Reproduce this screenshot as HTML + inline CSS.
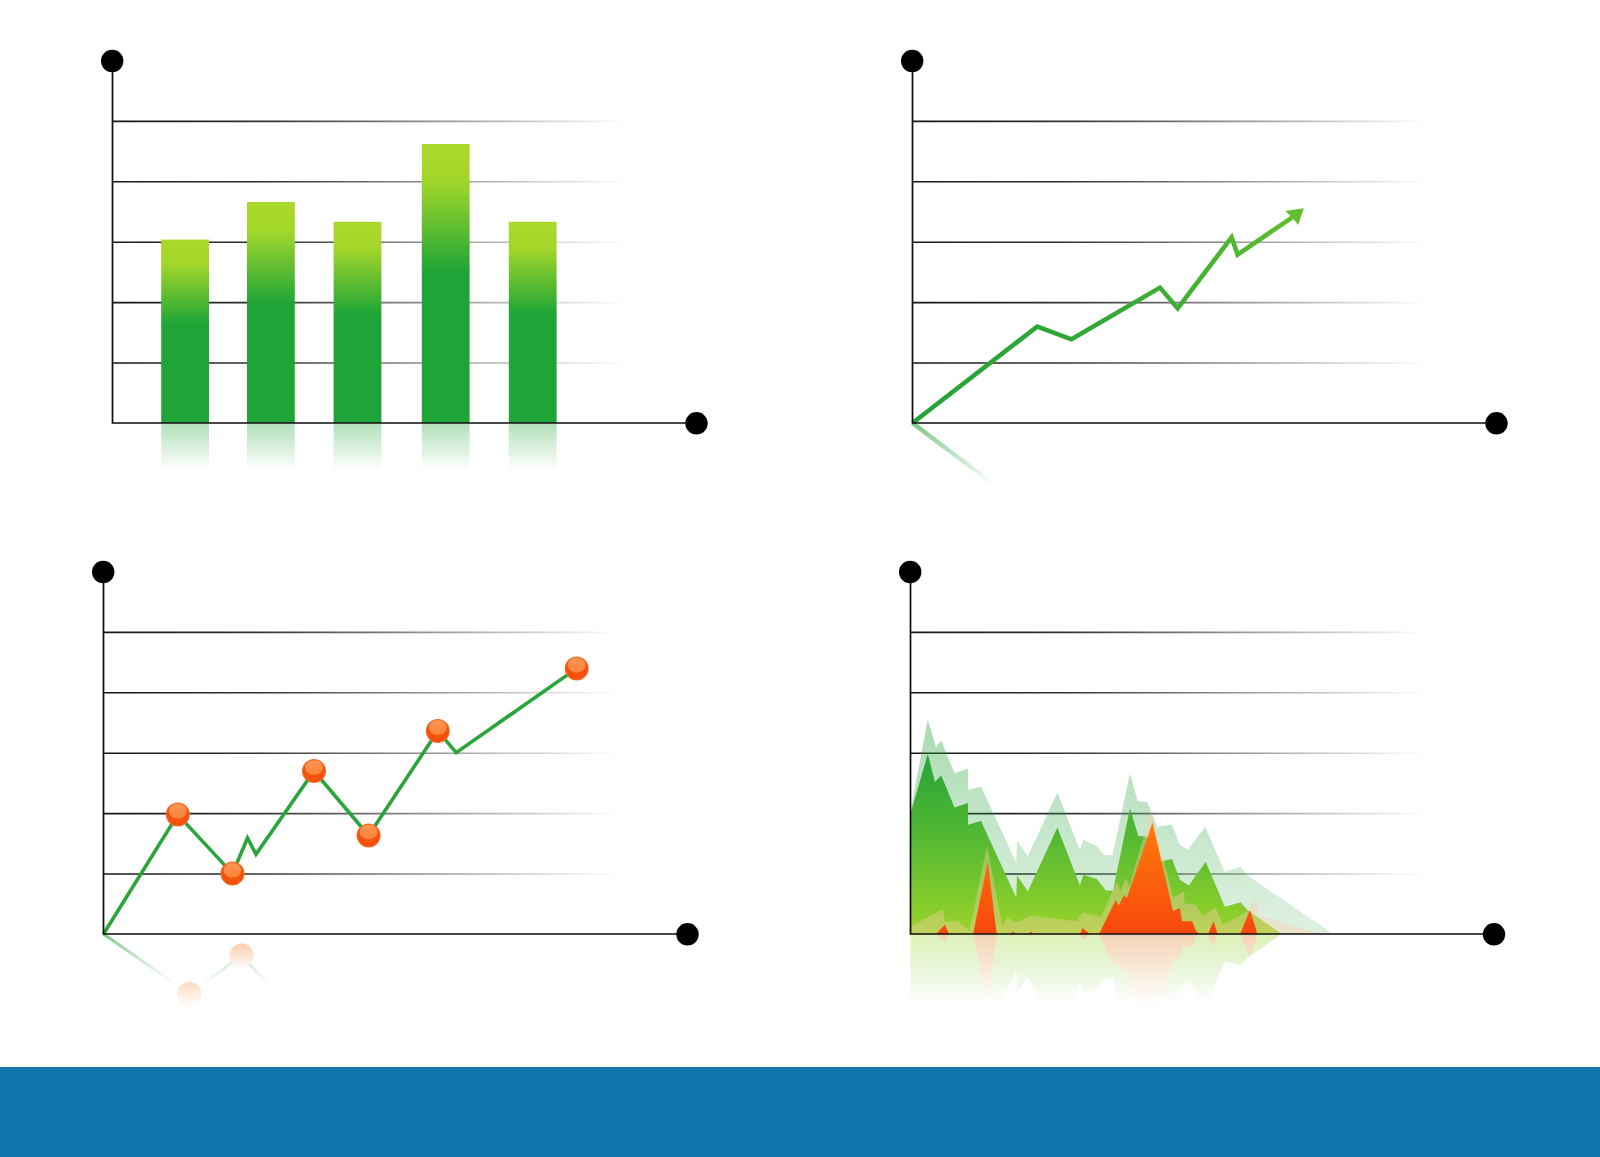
<!DOCTYPE html>
<html><head><meta charset="utf-8"><title>Charts</title>
<style>
html,body{margin:0;padding:0;background:#fff;font-family:"Liberation Sans",sans-serif;}
body{width:1600px;height:1157px;overflow:hidden;position:relative;}
svg{position:absolute;left:0;top:0;display:block;}
.band{position:absolute;left:0;top:1067px;width:1600px;height:90px;background:#1176ae;}
</style></head><body>
<svg width="1600" height="1157" viewBox="0 0 1600 1157">
<defs>
<linearGradient id="bar" x1="0" y1="0" x2="0" y2="1">
<stop offset="0" stop-color="#a9d92a"/><stop offset="0.13" stop-color="#a3d62a"/><stop offset="0.46" stop-color="#1fa537"/><stop offset="1" stop-color="#1fa537"/>
</linearGradient>
<linearGradient id="barref" x1="0" y1="0" x2="0" y2="1">
<stop offset="0" stop-color="#1fa537" stop-opacity="0.34"/><stop offset="1" stop-color="#1fa537" stop-opacity="0"/>
</linearGradient>

<linearGradient id="g1" gradientUnits="userSpaceOnUse" x1="112.5" y1="0" x2="627.5" y2="0"><stop offset="0" stop-color="#161616" stop-opacity="1"/><stop offset="0.3" stop-color="#161616" stop-opacity="0.88"/><stop offset="0.56" stop-color="#161616" stop-opacity="0.55"/><stop offset="0.78" stop-color="#161616" stop-opacity="0.27"/><stop offset="1" stop-color="#161616" stop-opacity="0"/></linearGradient>
<linearGradient id="g2" gradientUnits="userSpaceOnUse" x1="912.5" y1="0" x2="1427.5" y2="0"><stop offset="0" stop-color="#161616" stop-opacity="1"/><stop offset="0.3" stop-color="#161616" stop-opacity="0.88"/><stop offset="0.56" stop-color="#161616" stop-opacity="0.55"/><stop offset="0.78" stop-color="#161616" stop-opacity="0.27"/><stop offset="1" stop-color="#161616" stop-opacity="0"/></linearGradient>
<linearGradient id="g3" gradientUnits="userSpaceOnUse" x1="103.5" y1="0" x2="618.5" y2="0"><stop offset="0" stop-color="#161616" stop-opacity="1"/><stop offset="0.3" stop-color="#161616" stop-opacity="0.88"/><stop offset="0.56" stop-color="#161616" stop-opacity="0.55"/><stop offset="0.78" stop-color="#161616" stop-opacity="0.27"/><stop offset="1" stop-color="#161616" stop-opacity="0"/></linearGradient>
<linearGradient id="g4" gradientUnits="userSpaceOnUse" x1="910.5" y1="0" x2="1425.5" y2="0"><stop offset="0" stop-color="#161616" stop-opacity="1"/><stop offset="0.3" stop-color="#161616" stop-opacity="0.88"/><stop offset="0.56" stop-color="#161616" stop-opacity="0.55"/><stop offset="0.78" stop-color="#161616" stop-opacity="0.27"/><stop offset="1" stop-color="#161616" stop-opacity="0"/></linearGradient>
<linearGradient id="ln2" gradientUnits="userSpaceOnUse" x1="912" y1="423" x2="1304" y2="208"><stop offset="0" stop-color="#25a238"/><stop offset="0.55" stop-color="#35a935"/><stop offset="1" stop-color="#63c02c"/></linearGradient>
<linearGradient id="ref2" gradientUnits="userSpaceOnUse" x1="0" y1="423" x2="0" y2="485"><stop offset="0" stop-color="#25a238" stop-opacity="0.6"/><stop offset="1" stop-color="#25a238" stop-opacity="0"/></linearGradient>
<linearGradient id="ref3" gradientUnits="userSpaceOnUse" x1="0" y1="934" x2="0" y2="986"><stop offset="0" stop-color="#25a238" stop-opacity="0.6"/><stop offset="0.5" stop-color="#25a238" stop-opacity="0.22"/><stop offset="1" stop-color="#25a238" stop-opacity="0"/></linearGradient>
<radialGradient id="ball" cx="0.5" cy="0.5" r="0.5"><stop offset="0" stop-color="#f9560c"/><stop offset="0.85" stop-color="#f4500c"/><stop offset="1" stop-color="#f7742e"/></radialGradient>
<linearGradient id="ballhi" x1="0" y1="0" x2="0" y2="1"><stop offset="0" stop-color="#fc9655"/><stop offset="1" stop-color="#f98238"/></linearGradient>
<linearGradient id="grn4" gradientUnits="userSpaceOnUse" x1="0" y1="754" x2="0" y2="934"><stop offset="0" stop-color="#27a33a"/><stop offset="0.45" stop-color="#52b832"/><stop offset="1" stop-color="#9bd42a"/></linearGradient>
<linearGradient id="pale4" gradientUnits="userSpaceOnUse" x1="0" y1="720" x2="0" y2="934"><stop offset="0" stop-color="#27a33a" stop-opacity="0.39"/><stop offset="1" stop-color="#27a33a" stop-opacity="0.15"/></linearGradient>
<linearGradient id="org4" gradientUnits="userSpaceOnUse" x1="0" y1="822" x2="0" y2="934"><stop offset="0" stop-color="#ff7d0c"/><stop offset="1" stop-color="#f8470c"/></linearGradient>
<linearGradient id="fade4" gradientUnits="userSpaceOnUse" x1="0" y1="934" x2="0" y2="1004"><stop offset="0" stop-color="#fff" stop-opacity="0.34"/><stop offset="1" stop-color="#fff" stop-opacity="0"/></linearGradient>
<mask id="m4" maskUnits="userSpaceOnUse" x="880" y="930" width="520" height="90"><rect x="880" y="934" width="520" height="80" fill="url(#fade4)"/></mask>
</defs>

<line x1="112.5" y1="363.0" x2="627.5" y2="363.0" stroke="url(#g1)" stroke-width="1.6"/>
<line x1="112.5" y1="302.6" x2="627.5" y2="302.6" stroke="url(#g1)" stroke-width="1.6"/>
<line x1="112.5" y1="242.2" x2="627.5" y2="242.2" stroke="url(#g1)" stroke-width="1.6"/>
<line x1="112.5" y1="181.8" x2="627.5" y2="181.8" stroke="url(#g1)" stroke-width="1.6"/>
<line x1="112.5" y1="121.4" x2="627.5" y2="121.4" stroke="url(#g1)" stroke-width="1.6"/>
<rect x="161.2" y="239.6" width="47.8" height="183.4" fill="url(#bar)"/>
<rect x="161.2" y="423.6" width="47.8" height="47" fill="url(#barref)"/>
<rect x="247" y="202" width="47.8" height="221.0" fill="url(#bar)"/>
<rect x="247" y="423.6" width="47.8" height="47" fill="url(#barref)"/>
<rect x="333.6" y="221.8" width="47.8" height="201.2" fill="url(#bar)"/>
<rect x="333.6" y="423.6" width="47.8" height="47" fill="url(#barref)"/>
<rect x="421.8" y="144" width="47.8" height="279.0" fill="url(#bar)"/>
<rect x="421.8" y="423.6" width="47.8" height="47" fill="url(#barref)"/>
<rect x="508.8" y="221.8" width="47.8" height="201.2" fill="url(#bar)"/>
<rect x="508.8" y="423.6" width="47.8" height="47" fill="url(#barref)"/>
<path d="M112.5 61 V423 H696.5" fill="none" stroke="#0d0d0d" stroke-width="1.7"/>
<circle cx="112.2" cy="61" r="11.2" fill="#000"/><circle cx="696.5" cy="423.3" r="11.2" fill="#000"/>
<line x1="912.5" y1="363.0" x2="1427.5" y2="363.0" stroke="url(#g2)" stroke-width="1.6"/>
<line x1="912.5" y1="302.6" x2="1427.5" y2="302.6" stroke="url(#g2)" stroke-width="1.6"/>
<line x1="912.5" y1="242.2" x2="1427.5" y2="242.2" stroke="url(#g2)" stroke-width="1.6"/>
<line x1="912.5" y1="181.8" x2="1427.5" y2="181.8" stroke="url(#g2)" stroke-width="1.6"/>
<line x1="912.5" y1="121.4" x2="1427.5" y2="121.4" stroke="url(#g2)" stroke-width="1.6"/>
<path d="M912.5 423 L993 484" fill="none" stroke="url(#ref2)" stroke-width="4.4"/>
<polyline points="912.5,423.0 1037.3,326.5 1071.5,339.3 1160.0,287.6 1177.7,308.4 1231.6,237.3 1237.6,254.6 1293.0,216.8" fill="none" stroke="url(#ln2)" stroke-width="4.6" stroke-linejoin="miter" stroke-miterlimit="6"/>
<polygon points="1303.8,208.3 1285.4,211 1291.6,217.2 1292.2,217.6 1298.2,225" fill="#63c02c"/>
<path d="M912.5 61 V423 H1496.5" fill="none" stroke="#0d0d0d" stroke-width="1.7"/>
<circle cx="912.2" cy="61" r="11.2" fill="#000"/><circle cx="1496.5" cy="423.3" r="11.2" fill="#000"/>
<line x1="103.5" y1="874.0" x2="618.5" y2="874.0" stroke="url(#g3)" stroke-width="1.6"/>
<line x1="103.5" y1="813.6" x2="618.5" y2="813.6" stroke="url(#g3)" stroke-width="1.6"/>
<line x1="103.5" y1="753.2" x2="618.5" y2="753.2" stroke="url(#g3)" stroke-width="1.6"/>
<line x1="103.5" y1="692.8" x2="618.5" y2="692.8" stroke="url(#g3)" stroke-width="1.6"/>
<line x1="103.5" y1="632.4" x2="618.5" y2="632.4" stroke="url(#g3)" stroke-width="1.6"/>
<polyline points="103.5,934 189.4,994 241.7,955.4 274,991" fill="none" stroke="url(#ref3)" stroke-width="3"/>
<circle cx="241.7" cy="955.4" r="11.8" fill="#fff"/><circle cx="189.4" cy="994" r="11.8" fill="#fff"/>
<linearGradient id="rb1" gradientUnits="userSpaceOnUse" x1="0" y1="943" x2="0" y2="968"><stop offset="0" stop-color="#f9a56a" stop-opacity="0.55"/><stop offset="1" stop-color="#f9a56a" stop-opacity="0.05"/></linearGradient>
<linearGradient id="rb2" gradientUnits="userSpaceOnUse" x1="0" y1="982" x2="0" y2="1007"><stop offset="0" stop-color="#f9a56a" stop-opacity="0.4"/><stop offset="1" stop-color="#f9a56a" stop-opacity="0"/></linearGradient>
<circle cx="241.7" cy="955.4" r="12" fill="url(#rb1)"/><circle cx="189.4" cy="994" r="12" fill="url(#rb2)"/>
<polyline points="103.5,934.0 177.8,814.6 232.5,873.6 247.5,838.0 256.0,854.3 314.0,771.0 368.6,835.5 437.8,730.9 456.2,752.7 576.7,668.4" fill="none" stroke="#2aa53a" stroke-width="3.6" stroke-linejoin="miter"/>
<path d="M103.5 572 V934 H687.5" fill="none" stroke="#0d0d0d" stroke-width="1.7"/>
<circle cx="103.2" cy="572" r="11.2" fill="#000"/><circle cx="687.5" cy="934.3" r="11.2" fill="#000"/>
<circle cx="177.8" cy="814.6" r="12" fill="url(#ball)"/>
<ellipse cx="177.8" cy="811.2" rx="9" ry="7.4" fill="url(#ballhi)"/>
<circle cx="232.5" cy="873.6" r="12" fill="url(#ball)"/>
<ellipse cx="232.5" cy="870.2" rx="9" ry="7.4" fill="url(#ballhi)"/>
<circle cx="314" cy="771" r="12" fill="url(#ball)"/>
<ellipse cx="314" cy="767.6" rx="9" ry="7.4" fill="url(#ballhi)"/>
<circle cx="368.6" cy="835.5" r="12" fill="url(#ball)"/>
<ellipse cx="368.6" cy="832.1" rx="9" ry="7.4" fill="url(#ballhi)"/>
<circle cx="437.8" cy="730.9" r="12" fill="url(#ball)"/>
<ellipse cx="437.8" cy="727.5" rx="9" ry="7.4" fill="url(#ballhi)"/>
<circle cx="576.7" cy="668.4" r="12" fill="url(#ball)"/>
<ellipse cx="576.7" cy="665.0" rx="9" ry="7.4" fill="url(#ballhi)"/>
<line x1="910.5" y1="874.0" x2="1425.5" y2="874.0" stroke="url(#g4)" stroke-width="1.6"/>
<line x1="910.5" y1="813.6" x2="1425.5" y2="813.6" stroke="url(#g4)" stroke-width="1.6"/>
<line x1="910.5" y1="753.2" x2="1425.5" y2="753.2" stroke="url(#g4)" stroke-width="1.6"/>
<line x1="910.5" y1="692.8" x2="1425.5" y2="692.8" stroke="url(#g4)" stroke-width="1.6"/>
<line x1="910.5" y1="632.4" x2="1425.5" y2="632.4" stroke="url(#g4)" stroke-width="1.6"/>
<g mask="url(#m4)"><g transform="translate(0,1868) scale(1,-1)"><polygon points="910.5,934.0 910.5,813.5 927.8,753.9 934.9,782.0 941.2,775.3 954.5,807.4 968.0,802.9 968.0,824.7 981.0,820.9 1016.3,897.8 1017.0,875.3 1027.8,891.5 1057.4,827.6 1079.9,885.4 1083.3,874.8 1096.7,879.0 1105.9,890.6 1113.0,890.6 1130.0,808.3 1138.3,836.0 1146.2,836.6 1157.4,861.5 1164.2,860.7 1172.0,859.1 1179.9,879.8 1188.9,885.4 1205.7,861.8 1224.8,906.7 1240.6,902.2 1247.3,910.0 1279.0,932.0 1280.0,934.0" fill="url(#grn4)"/>
<polygon points="936.0,934.0 945.0,924.7 948.9,934.0" fill="#dc7c22"/>
<polygon points="973.1,934.0 987.8,861.8 996.7,934.0" fill="#dc7c22"/>
<polygon points="1010.5,934.0 1013.0,931.5 1016.0,934.0" fill="#dc7c22"/>
<polygon points="1028.0,934.0 1031.0,931.8 1034.0,934.0" fill="#dc7c22"/>
<polygon points="1079.9,934.0 1082.6,928.1 1090.0,934.0" fill="#dc7c22"/>
<polygon points="1099.0,934.0 1115.8,900.0 1118.8,905.6 1123.7,895.5 1127.0,897.8 1152.5,822.5 1173.1,911.2 1179.9,907.9 1182.1,921.3 1192.2,921.3 1195.6,930.3 1199.0,934.0" fill="#dc7c22"/>
<polygon points="1208.0,934.0 1213.6,921.3 1217.6,934.0" fill="#dc7c22"/>
<polygon points="1240.1,934.0 1250.0,910.1 1257.4,934.0" fill="#dc7c22"/></g></g>
<polygon points="910.5,934.0 910.5,811.0 927.8,719.8 936.0,747.2 941.2,740.4 954.5,773.0 968.0,768.5 968.0,789.9 981.0,786.5 1016.3,862.9 1017.0,840.4 1027.8,856.2 1057.4,792.8 1079.9,850.1 1083.3,839.8 1096.7,846.0 1104.6,855.0 1112.5,855.0 1130.0,773.7 1137.6,801.1 1147.3,802.2 1157.4,827.0 1164.2,825.8 1172.0,824.7 1179.9,844.9 1187.8,849.4 1205.3,827.0 1224.8,871.9 1240.6,866.7 1247.3,875.3 1332.5,933.5 1333.0,934.0" fill="url(#pale4)"/>
<polygon points="910.5,934.0 910.5,813.5 927.8,753.9 934.9,782.0 941.2,775.3 954.5,807.4 968.0,802.9 968.0,824.7 981.0,820.9 1016.3,897.8 1017.0,875.3 1027.8,891.5 1057.4,827.6 1079.9,885.4 1083.3,874.8 1096.7,879.0 1105.9,890.6 1113.0,890.6 1130.0,808.3 1138.3,836.0 1146.2,836.6 1157.4,861.5 1164.2,860.7 1172.0,859.1 1179.9,879.8 1188.9,885.4 1205.7,861.8 1224.8,906.7 1240.6,902.2 1247.3,910.0 1279.0,932.0 1280.0,934.0" fill="url(#grn4)"/>
<polygon points="910.5,934.0 910.5,927.0 942.8,909.0 945.0,921.3 957.4,921.3 969.5,931.0 987.0,845.0 1002.4,927.0 1006.9,916.9 1015.8,922.5 1031.6,915.7 1076.5,921.3 1083.3,912.4 1101.2,916.9 1112.5,891.0 1117.0,882.0 1120.3,891.0 1126.0,877.5 1129.3,886.5 1150.5,812.0 1164.2,860.7 1173.0,897.8 1184.4,891.0 1184.4,903.4 1195.6,904.5 1202.4,915.7 1215.8,907.9 1222.6,924.7 1233.8,919.0 1247.3,911.2 1254.0,897.8 1260.8,915.7 1317.0,932.6 1318.0,934.0" fill="#fdcdad" fill-opacity="0.38"/>
<polygon points="936.0,934.0 945.0,924.7 948.9,934.0" fill="url(#org4)"/>
<polygon points="973.1,934.0 987.8,861.8 996.7,934.0" fill="url(#org4)"/>
<polygon points="1010.5,934.0 1013.0,931.5 1016.0,934.0" fill="url(#org4)"/>
<polygon points="1028.0,934.0 1031.0,931.8 1034.0,934.0" fill="url(#org4)"/>
<polygon points="1079.9,934.0 1082.6,928.1 1090.0,934.0" fill="url(#org4)"/>
<polygon points="1099.0,934.0 1115.8,900.0 1118.8,905.6 1123.7,895.5 1127.0,897.8 1152.5,822.5 1173.1,911.2 1179.9,907.9 1182.1,921.3 1192.2,921.3 1195.6,930.3 1199.0,934.0" fill="url(#org4)"/>
<polygon points="1208.0,934.0 1213.6,921.3 1217.6,934.0" fill="url(#org4)"/>
<polygon points="1240.1,934.0 1250.0,910.1 1257.4,934.0" fill="url(#org4)"/>
<path d="M910.5 572 V934 H1494" fill="none" stroke="#0d0d0d" stroke-width="1.7"/>
<circle cx="910.2" cy="572" r="11.2" fill="#000"/><circle cx="1494" cy="934.3" r="11.2" fill="#000"/>
</svg>
<div class="band"></div>
</body></html>
